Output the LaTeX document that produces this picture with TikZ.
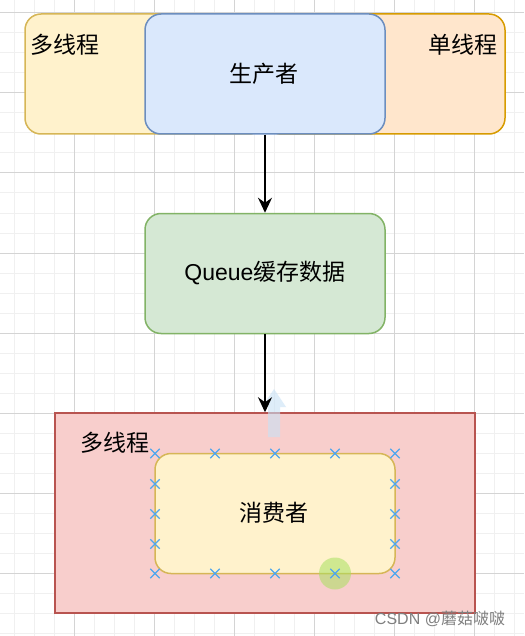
\documentclass[tikz,border=0pt]{standalone}
\usepackage{fontspec}
\setmainfont{Liberation Sans}
\newfontfamily\cjk{Noto Sans CJK SC}
\usetikzlibrary{arrows.meta,shapes.misc}
\definecolor{gridminor}{HTML}{F0F0F0}
\definecolor{gridmajor}{HTML}{D4D4D4}
\definecolor{yelfill}{HTML}{FFF2CC}
\definecolor{yeldraw}{HTML}{D6B656}
\definecolor{orafill}{HTML}{FFE6CC}
\definecolor{oradraw}{HTML}{D79B00}
\definecolor{blufill}{HTML}{DAE8FC}
\definecolor{bludraw}{HTML}{6C8EBF}
\definecolor{grnfill}{HTML}{D5E8D4}
\definecolor{grndraw}{HTML}{82B366}
\definecolor{redfill}{HTML}{F8CECC}
\definecolor{reddraw}{HTML}{B85450}
\definecolor{markblue}{HTML}{4DA6EE}
\definecolor{hovgreen}{HTML}{A8E060}
\definecolor{ghost}{RGB}{200,225,245}
\tikzset{
  minorline/.style={gridminor, line width=1pt},
  majorline/.style={gridmajor, line width=1pt},
  rbox/.style={rectangle, rounded corners=16pt, line width=1.5pt, minimum width=240pt, minimum height=120pt, inner sep=0pt},
  lbl/.style={font=\cjk\fontsize{23}{27}\selectfont, inner sep=0pt},
  conn/.style={line width=1.5pt, -{Stealth[length=15pt,width=14pt,inset=5pt]}},
  marker/.style={cross out, draw=markblue, line width=1.3pt, minimum size=8pt, inner sep=0pt},
}
\begin{document}
\begin{tikzpicture}[x=1pt,y=-1pt]
\useasboundingbox (0,0) rectangle (524,636);
\fill[white] (0,0) rectangle (524,636);
% grid
\foreach \x in {14,34,...,514} \draw[minorline] (\x,0) -- (\x,636);
\foreach \y in {13,33,...,633} \draw[minorline] (0,\y) -- (524,\y);
\foreach \x in {74,154,...,474} \draw[majorline] (\x,0) -- (\x,636);
\foreach \y in {13,93,...,573} \draw[majorline] (0,\y) -- (524,\y);
% producer group
\node[rbox, fill=yelfill, draw=yeldraw] (multi) at (145,74) {};
\node[rbox, fill=orafill, draw=oradraw] (single) at (385,74) {};
\node[rbox, fill=blufill, draw=bludraw] (prod) at (265,74) {};
\node[lbl] (multilbl) at (64.5,45) {多线程};
\node[lbl] (singlelbl) at (463,45) {单线程};
\node[lbl] (prodlbl) at (263.5,74) {生产者};
% queue
\node[rbox, fill=grnfill, draw=grndraw, font=\fontsize{23}{27}\selectfont] (queue) at (265,273.5) {Queue{\cjk 缓存数据}};
% consumer pool
\node[rectangle, fill=redfill, draw=reddraw, line width=1.5pt, minimum width=420pt, minimum height=200pt, inner sep=0pt] (pool) at (265,513) {};
\node[lbl] (poollbl) at (115,443) {多线程};
\node[rbox, fill=yelfill, draw=yeldraw] (cons) at (275,513.5) {};
\node[lbl] (conslbl) at (274,513) {消费者};
% faded drag arrow
\fill[ghost, opacity=0.6] (268,437) -- (268,407) -- (262,407) -- (274,389) -- (286,407) -- (280,407) -- (280,437) -- cycle;
% connectors
\draw[conn] (prod.south) -- (queue.north);
\draw[conn] (queue.south) -- (pool.north);
% hover circle
\fill[hovgreen, opacity=0.55] (335,573.5) circle (16);
% connection markers
\foreach \x in {155,215,275,335,395} {
  \node[marker] at (\x,453.5) {};
  \node[marker] at (\x,573.5) {};
}
\foreach \y in {484,514,544} {
  \node[marker] at (155,\y) {};
  \node[marker] at (395,\y) {};
}
% watermark
\node[text=black!50, inner sep=0pt, font=\fontsize{16}{19}\selectfont] (wm) at (440,619) {CSDN @{\cjk 蘑菇啵啵}};
\end{tikzpicture}
\end{document}
